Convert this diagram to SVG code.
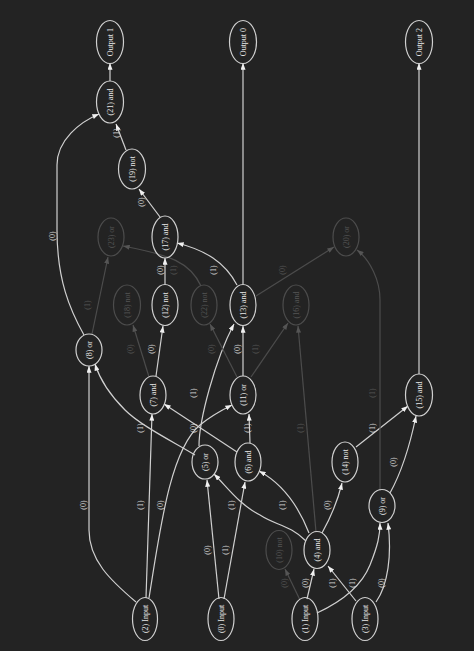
<svg xmlns="http://www.w3.org/2000/svg" width="474" height="651" viewBox="0 0 474 651">
<style>
.bg{fill:#232323}
.n ellipse{fill:none;stroke:#d0d0d0;stroke-width:1.2}
.g ellipse{fill:none;stroke:#4c4c4c;stroke-width:1.2}
.n text{fill:#e8e8e8}
.g text{fill:#555}
text{font-family:"Liberation Serif",serif;font-size:8px;text-anchor:middle;dominant-baseline:central}
.e{fill:none;stroke:#d0d0d0;stroke-width:1.2;marker-end:url(#aw)}
.eg{fill:none;stroke:#4c4c4c;stroke-width:1.2;marker-end:url(#ag)}
.l{fill:#d8d8d8}
.lg{fill:#555}
</style>
<defs>
<marker id="aw" viewBox="0 0 8 6" refX="8" refY="3" markerWidth="7" markerHeight="5" markerUnits="userSpaceOnUse" orient="auto"><path d="M0,0L8,3L0,6z" fill="#f0f0f0"/></marker>
<marker id="ag" viewBox="0 0 8 6" refX="8" refY="3" markerWidth="7" markerHeight="5" markerUnits="userSpaceOnUse" orient="auto"><path d="M0,0L8,3L0,6z" fill="#555"/></marker>
</defs>
<rect class="bg" width="474" height="651"/>
<g id="connectors">
<path class="e" d="M110,81L110,63"/>
<path class="e" d="M126,150L116,124"/>
<path class="e" d="M160,217L139,189"/>
<path class="e" d="M84,335C70,310 57,280 57,230L57,165C57,140 80,122 99,114"/>
<path class="e" d="M165,284L165,258"/>
<path class="e" d="M237,285C225,262 205,250 177,243"/>
<path class="e" d="M243,284L243,63"/>
<path class="e" d="M156,376L163,326"/>
<path class="e" d="M243,376L243,326"/>
<path class="e" d="M199,446C199,420 215,360 234,324"/>
<path class="e" d="M136,602C110,580 89,560 89,530L89,366"/>
<path class="e" d="M146,598L152,414"/>
<path class="e" d="M149,598C160,530 170,450 200,425C212,415 222,410 232,405"/>
<path class="e" d="M219,599L207,480"/>
<path class="e" d="M224,599L245,482"/>
<path class="e" d="M307,599L314,569"/>
<path class="e" d="M356,601L328,566"/>
<path class="e" d="M317,613C345,600 362,585 370,565C378,545 380,535 380,523"/>
<path class="e" d="M376,602C388,585 392,555 388,523"/>
<path class="e" d="M322,533C332,515 338,500 342,483"/>
<path class="e" d="M306,541C290,525 275,525 260,515C240,505 228,488 214,474"/>
<path class="e" d="M309,533C300,510 285,485 259,471"/>
<path class="e" d="M390,493C400,475 410,445 416,416"/>
<path class="e" d="M195,455C170,440 140,425 125,410C110,395 100,380 95,364"/>
<path class="e" d="M237,452L164,404"/>
<path class="e" d="M250,443L249,414"/>
<path class="e" d="M356,447L408,406"/>
<path class="e" d="M419,374L419,63"/>
<path class="eg" d="M300,600L285,569"/>
<path class="eg" d="M316,532L298,326"/>
<path class="eg" d="M251,377L288,323"/>
<path class="eg" d="M237,377L210,324"/>
<path class="eg" d="M149,377L133,325"/>
<path class="eg" d="M92,334L108,257"/>
<path class="eg" d="M201,286C190,262 170,255 123,246"/>
<path class="eg" d="M256,296L334,247"/>
<path class="eg" d="M380,491L380,300C380,280 370,260 357,250"/>
<g transform="rotate(-90 116 133)"><text class="l" x="116" y="133">(1)</text></g>
<g transform="rotate(-90 141 202)"><text class="l" x="141" y="202">(0)</text></g>
<g transform="rotate(-90 52 236)"><text class="l" x="52" y="236">(0)</text></g>
<g transform="rotate(-90 160 270)"><text class="l" x="160" y="270">(0)</text></g>
<g transform="rotate(-90 213 270)"><text class="l" x="213" y="270">(1)</text></g>
<g transform="rotate(-90 151 349)"><text class="l" x="151" y="349">(0)</text></g>
<g transform="rotate(-90 237 349)"><text class="l" x="237" y="349">(0)</text></g>
<g transform="rotate(-90 193 393)"><text class="l" x="193" y="393">(1)</text></g>
<g transform="rotate(-90 140 428)"><text class="l" x="140" y="428">(1)</text></g>
<g transform="rotate(-90 193 428)"><text class="l" x="193" y="428">(0)</text></g>
<g transform="rotate(-90 247 428)"><text class="l" x="247" y="428">(1)</text></g>
<g transform="rotate(-90 372 428)"><text class="l" x="372" y="428">(1)</text></g>
<g transform="rotate(-90 393 462)"><text class="l" x="393" y="462">(0)</text></g>
<g transform="rotate(-90 83 505)"><text class="l" x="83" y="505">(0)</text></g>
<g transform="rotate(-90 140 505)"><text class="l" x="140" y="505">(1)</text></g>
<g transform="rotate(-90 160 505)"><text class="l" x="160" y="505">(0)</text></g>
<g transform="rotate(-90 231 505)"><text class="l" x="231" y="505">(1)</text></g>
<g transform="rotate(-90 282 505)"><text class="l" x="282" y="505">(1)</text></g>
<g transform="rotate(-90 327 505)"><text class="l" x="327" y="505">(0)</text></g>
<g transform="rotate(-90 207 550)"><text class="l" x="207" y="550">(0)</text></g>
<g transform="rotate(-90 225 550)"><text class="l" x="225" y="550">(1)</text></g>
<g transform="rotate(-90 305 583)"><text class="l" x="305" y="583">(0)</text></g>
<g transform="rotate(-90 332 583)"><text class="l" x="332" y="583">(1)</text></g>
<g transform="rotate(-90 352 583)"><text class="l" x="352" y="583">(1)</text></g>
<g transform="rotate(-90 381 583)"><text class="l" x="381" y="583">(0)</text></g>
<g transform="rotate(-90 284 583)"><text class="lg" x="284" y="583">(0)</text></g>
<g transform="rotate(-90 300 428)"><text class="lg" x="300" y="428">(1)</text></g>
<g transform="rotate(-90 255 349)"><text class="lg" x="255" y="349">(1)</text></g>
<g transform="rotate(-90 211 349)"><text class="lg" x="211" y="349">(0)</text></g>
<g transform="rotate(-90 130 349)"><text class="lg" x="130" y="349">(0)</text></g>
<g transform="rotate(-90 87 305)"><text class="lg" x="87" y="305">(1)</text></g>
<g transform="rotate(-90 173 270)"><text class="lg" x="173" y="270">(1)</text></g>
<g transform="rotate(-90 282 270)"><text class="lg" x="282" y="270">(0)</text></g>
<g transform="rotate(-90 372 393)"><text class="lg" x="372" y="393">(1)</text></g>
</g>
<g id="out1" class="n"><ellipse cx="110" cy="42" rx="13.5" ry="21.5"/><text transform="rotate(-90 110 42)" x="110" y="42">Output 1</text></g>
<g id="out0" class="n"><ellipse cx="243" cy="42" rx="13.5" ry="21.5"/><text transform="rotate(-90 243 42)" x="243" y="42">Output 0</text></g>
<g id="out2" class="n"><ellipse cx="419" cy="42" rx="13.5" ry="21.5"/><text transform="rotate(-90 419 42)" x="419" y="42">Output 2</text></g>
<g id="n21" class="n"><ellipse cx="110" cy="102" rx="13.5" ry="21"/><text transform="rotate(-90 110 102)" x="110" y="102">(21) and</text></g>
<g id="n19" class="n"><ellipse cx="132" cy="169" rx="13.5" ry="20"/><text transform="rotate(-90 132 169)" x="132" y="169">(19) not</text></g>
<g id="n17" class="n"><ellipse cx="165" cy="237" rx="13" ry="21"/><text transform="rotate(-90 165 237)" x="165" y="237">(17) and</text></g>
<g id="n23" class="g"><ellipse cx="111" cy="237" rx="13" ry="19"/><text transform="rotate(-90 111 237)" x="111" y="237">(23) or</text></g>
<g id="n20" class="g"><ellipse cx="346" cy="237" rx="13" ry="19"/><text transform="rotate(-90 346 237)" x="346" y="237">(20) or</text></g>
<g id="n18" class="g"><ellipse cx="127" cy="305" rx="13.5" ry="20"/><text transform="rotate(-90 127 305)" x="127" y="305">(18) not</text></g>
<g id="n12" class="n"><ellipse cx="165" cy="305" rx="13" ry="20.5"/><text transform="rotate(-90 165 305)" x="165" y="305">(12) not</text></g>
<g id="n22" class="g"><ellipse cx="204" cy="305" rx="13" ry="20"/><text transform="rotate(-90 204 305)" x="204" y="305">(22) not</text></g>
<g id="n13" class="n"><ellipse cx="243" cy="305" rx="13" ry="20.5"/><text transform="rotate(-90 243 305)" x="243" y="305">(13) and</text></g>
<g id="n16" class="g"><ellipse cx="296" cy="305" rx="13" ry="20"/><text transform="rotate(-90 296 305)" x="296" y="305">(16) and</text></g>
<g id="n8" class="n"><ellipse cx="89" cy="350" rx="13" ry="16"/><text transform="rotate(-90 89 350)" x="89" y="350">(8) or</text></g>
<g id="n7" class="n"><ellipse cx="153" cy="395" rx="13" ry="19"/><text transform="rotate(-90 153 395)" x="153" y="395">(7) and</text></g>
<g id="n11" class="n"><ellipse cx="243" cy="395" rx="13" ry="19"/><text transform="rotate(-90 243 395)" x="243" y="395">(11) or</text></g>
<g id="n15" class="n"><ellipse cx="419" cy="395" rx="13.5" ry="21"/><text transform="rotate(-90 419 395)" x="419" y="395">(15) and</text></g>
<g id="n5" class="n"><ellipse cx="205" cy="462" rx="13" ry="17"/><text transform="rotate(-90 205 462)" x="205" y="462">(5) or</text></g>
<g id="n6" class="n"><ellipse cx="248" cy="462" rx="13" ry="19"/><text transform="rotate(-90 248 462)" x="248" y="462">(6) and</text></g>
<g id="n14" class="n"><ellipse cx="345" cy="462" rx="13" ry="20"/><text transform="rotate(-90 345 462)" x="345" y="462">(14) not</text></g>
<g id="n9" class="n"><ellipse cx="382" cy="506" rx="13" ry="16.5"/><text transform="rotate(-90 382 506)" x="382" y="506">(9) or</text></g>
<g id="n10" class="g"><ellipse cx="279" cy="550" rx="13" ry="19.5"/><text transform="rotate(-90 279 550)" x="279" y="550">(10) not</text></g>
<g id="n4" class="n"><ellipse cx="317" cy="550" rx="13" ry="18.5"/><text transform="rotate(-90 317 550)" x="317" y="550">(4) and</text></g>
<g id="in2" class="n"><ellipse cx="145" cy="619" rx="12.5" ry="21.5"/><text transform="rotate(-90 145 619)" x="145" y="619">(2) Input</text></g>
<g id="in0" class="n"><ellipse cx="221" cy="619" rx="13" ry="21.5"/><text transform="rotate(-90 221 619)" x="221" y="619">(0) Input</text></g>
<g id="in1" class="n"><ellipse cx="305" cy="619" rx="13" ry="21.5"/><text transform="rotate(-90 305 619)" x="305" y="619">(1) Input</text></g>
<g id="in3" class="n"><ellipse cx="365" cy="619" rx="13" ry="21.5"/><text transform="rotate(-90 365 619)" x="365" y="619">(3) Input</text></g>
</svg>
